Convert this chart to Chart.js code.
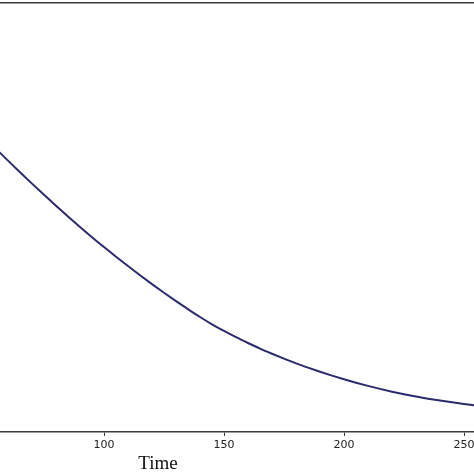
<!DOCTYPE html>
<html>
<head>
<meta charset="utf-8">
<script src="https://cdn.jsdelivr.net/npm/chart.js@4.4.0/dist/chart.umd.min.js"></script>
<style>
    html, body { margin: 0; padding: 0; background: #fff; overflow: hidden; }
    #wrap { position: absolute; left: -166px; top: 0; width: 648px; height: 477px; }
</style>
</head>
<body>
<div id="wrap"><canvas id="chart-time" width="648" height="477"></canvas></div>
<script>
    'use strict';

    // valeurs (axe y non gradué dans l'original)
    const times = [0, 5, 10, 15, 20, 25, 30, 35, 40, 45, 50, 55, 60, 65, 70, 75, 80, 85, 90, 95,
        100, 105, 110, 115, 120, 125, 130, 135, 140, 145, 150, 155, 160, 165, 170, 175, 180, 185, 190, 195,
        200, 205, 210, 215, 220, 225, 230, 235, 240, 245, 250, 255, 260];
    const values = [96.8, 94.0, 91.2, 88.4, 85.6, 82.8, 80.0, 77.2, 74.4, 71.6, 68.8, 66.0, 63.25, 60.55, 57.9, 55.3, 52.75, 50.25, 47.8, 45.42,
        43.11, 40.87, 38.68, 36.55, 34.48, 32.47, 30.52, 28.63, 26.8, 25.1, 23.55, 22.1, 20.75, 19.45, 18.25, 17.1, 16.0, 15.0, 14.05, 13.15,
        12.3, 11.5, 10.75, 10.05, 9.4, 8.8, 8.25, 7.77, 7.33, 6.92, 6.55, 6.2, 5.88];
    const xTicks = [0, 50, 100, 150, 200, 250];
    const xTitle = 'Time';

    const points = times.map((t, i) => ({ x: t, y: values[i] }));
    const axisColor = '#3a3a3a';

    new Chart(document.getElementById('chart-time'), {
        type: 'line',
        data: {
            datasets: [{
                data: points,
                borderColor: '#2a2a6c',
                borderWidth: 2,
                pointRadius: 0,
                cubicInterpolationMode: 'monotone',
                fill: false
            }]
        },
        options: {
            responsive: false,
            animation: false,
            layout: { padding: { top: 3, left: 0, right: 0, bottom: 2 } },
            plugins: { legend: { display: false }, tooltip: { enabled: false } },
            scales: {
                x: {
                    type: 'linear',
                    min: -12.5,
                    max: 257.5,
                    afterBuildTicks: axis => { axis.ticks = xTicks.map(v => ({ value: v })); },
                    border: { display: true, color: axisColor, width: 1.5 },
                    grid: { drawOnChartArea: false, drawTicks: true, tickLength: 4, color: axisColor, lineWidth: 1 },
                    ticks: {
                        color: '#222',
                        padding: 3,
                        maxRotation: 0,
                        font: { family: 'DejaVu Sans', size: 11 }
                    },
                    title: {
                        display: true,
                        text: xTitle,
                        color: '#111',
                        padding: { top: -3, bottom: 0 },
                        font: { family: 'Liberation Serif', size: 19 }
                    }
                },
                x2: {
                    type: 'linear',
                    position: 'top',
                    border: { display: true, color: axisColor, width: 1.5 },
                    grid: { display: false, drawTicks: false },
                    ticks: { display: false }
                },
                y: {
                    display: false,
                    min: 0,
                    max: 100
                }
            }
        }
    });
</script>
</body>
</html>
